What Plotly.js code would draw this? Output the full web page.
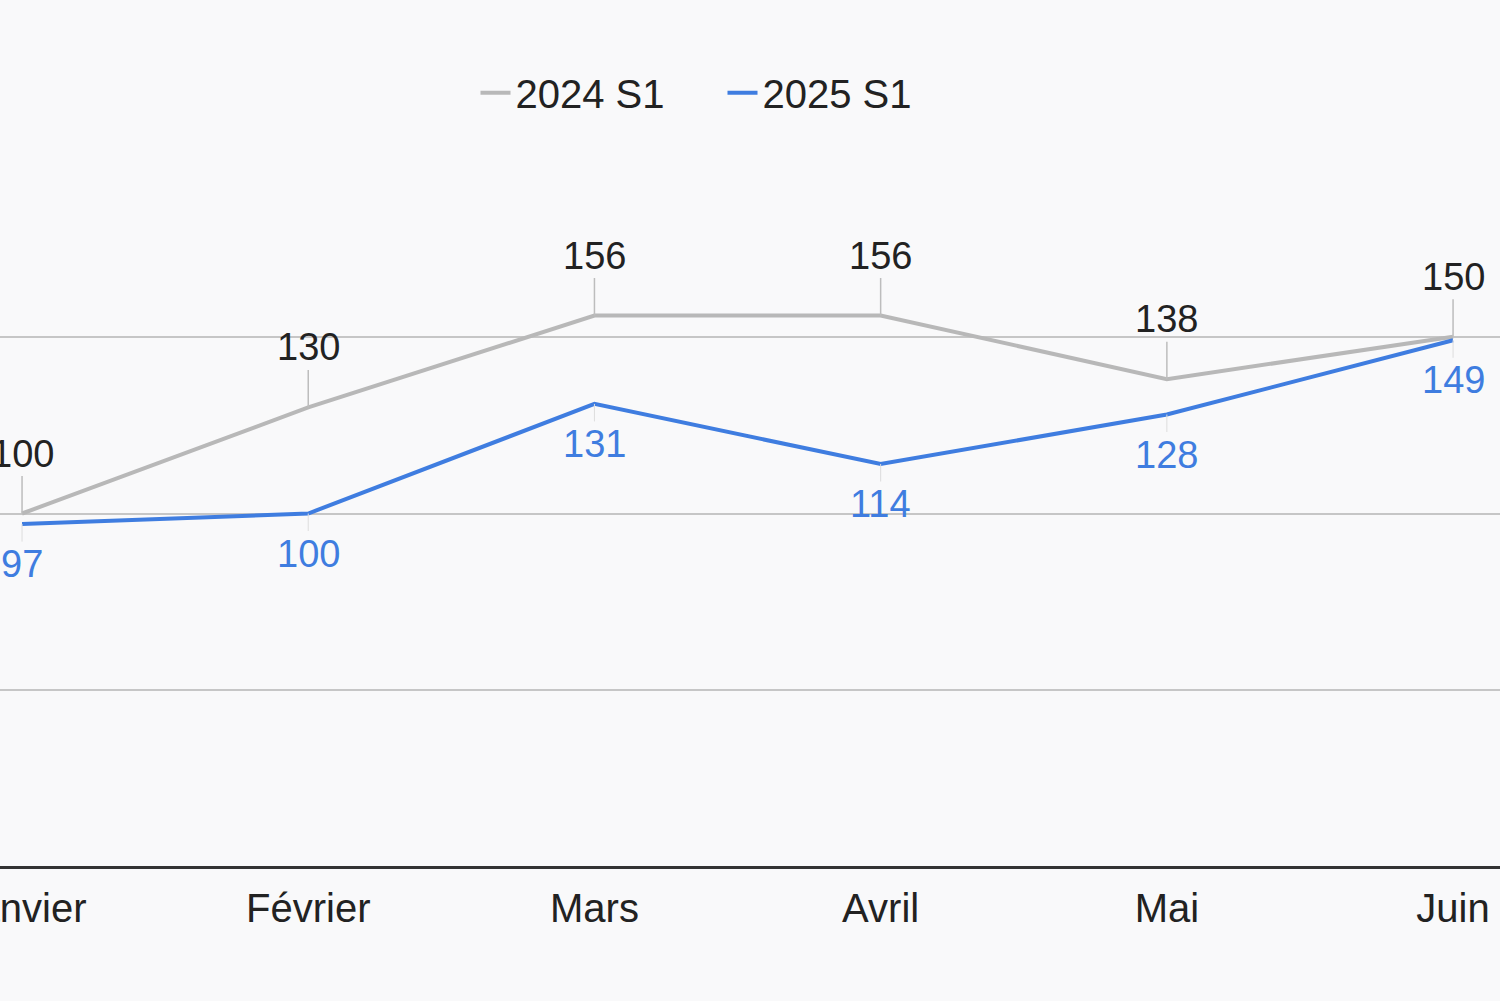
<!DOCTYPE html>
<html>
<head>
<meta charset="utf-8">
<script src="https://cdn.plot.ly/plotly-3.0.1.min.js"></script>
<style>
  html, body { margin: 0; padding: 0; background: #f9f9fa; }
  #chart { width: 1500px; height: 1001px; }
</style>
</head>
<body>
<div id="chart"></div>
<script>
const months = ["Janvier", "Février", "Mars", "Avril", "Mai", "Juin"];
const values2024 = [100, 130, 156, 156, 138, 150];
const values2025 = [97, 100, 131, 114, 128, 149];
const seriesNames = ["2024 S1", "2025 S1"];
const yTicks = [0, 50, 100, 150, 200];

const grayColor = "#b8b8b8";
const blueColor = "#3f7de0";
const FONT = "Arial, 'Liberation Sans', sans-serif";

const traces = [
  {
    x: months, y: values2024, name: seriesNames[0], type: "scatter", mode: "lines",
    line: { color: grayColor, width: 4 }, hoverinfo: "skip"
  },
  {
    x: months, y: values2025, name: seriesNames[1], type: "scatter", mode: "lines",
    line: { color: blueColor, width: 4 }, hoverinfo: "skip"
  }
];

const annotations = [];
months.forEach((m, i) => {
  annotations.push({
    x: m, y: values2024[i], xref: "x", yref: "y",
    text: String(values2024[i]), showarrow: true, arrowhead: 0, arrowwidth: 1.5,
    arrowcolor: "#bdbdbd", ax: 0, ay: -60, standoff: 0,
    font: { family: FONT, size: 38, color: "#222222" }
  });
  annotations.push({
    x: m, y: values2025[i], xref: "x", yref: "y",
    text: String(values2025[i]), showarrow: true, arrowhead: 0, arrowwidth: 1,
    arrowcolor: "#dddddd", ax: 0, ay: 40, standoff: 0,
    font: { family: FONT, size: 38, color: blueColor }
  });
});

const layout = {
  width: 1500, height: 1001,
  paper_bgcolor: "#f9f9fa", plot_bgcolor: "#f9f9fa",
  margin: { l: 0, r: 0, t: 160, b: 134, pad: 0 },
  font: { family: FONT, size: 38, color: "#222222" },
  showlegend: true,
  legend: {
    orientation: "h", x: 0.317, xanchor: "left", y: 1.095, yanchor: "middle",
    font: { family: FONT, size: 40, color: "#222222" },
    bgcolor: "rgba(0,0,0,0)", itemwidth: 30,
    entrywidth: 202, entrywidthmode: "pixels"
  },
  xaxis: {
    type: "category", range: [-0.077, 5.164],
    showgrid: false, zeroline: false, showline: false,
    ticks: "", ticklabelstandoff: 14,
    tickfont: { family: FONT, size: 40, color: "#222222" },
    fixedrange: true
  },
  yaxis: {
    range: [0, 200], tickvals: yTicks, showticklabels: false,
    showgrid: true, gridcolor: "#c6c6c6", gridwidth: 2,
    zeroline: true, zerolinecolor: "#333333", zerolinewidth: 3,
    showline: false, ticks: "", fixedrange: true
  },
  annotations: annotations
};

Plotly.newPlot("chart", traces, layout, { displayModeBar: false, staticPlot: true });
</script>
</body>
</html>
